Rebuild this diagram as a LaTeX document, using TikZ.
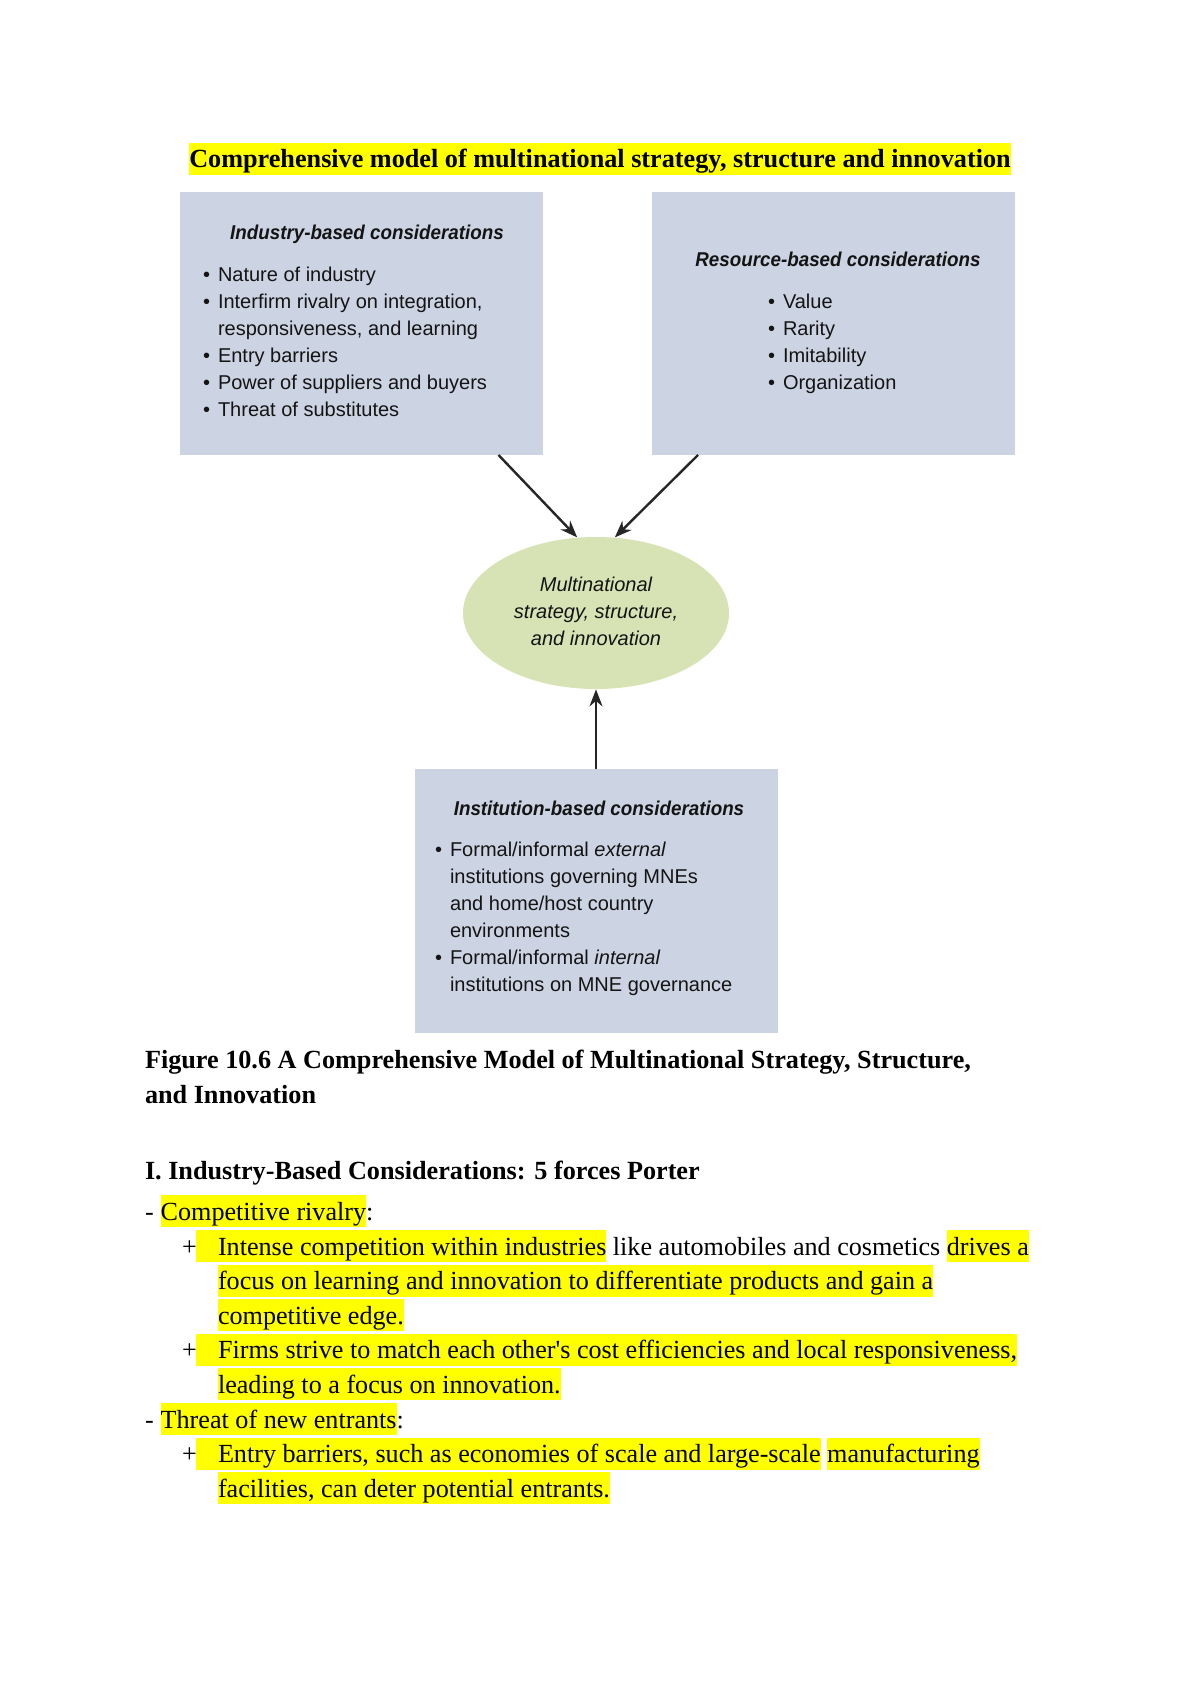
\documentclass[tikz,border=0pt]{standalone}
\usepackage{fontspec}
\setmainfont{Liberation Serif}
\newfontfamily\dg{Liberation Sans}
\newfontfamily\dgn[FakeStretch=0.94]{Liberation Sans}
\usetikzlibrary{shapes.geometric,arrows.meta}
\definecolor{boxc}{RGB}{204,211,227}
\definecolor{ellc}{RGB}{215,227,180}
\definecolor{hly}{RGB}{255,255,0}
\definecolor{dtext}{RGB}{20,20,20}
\newcommand{\hl}[1]{{\setlength{\fboxsep}{0pt}\colorbox{hly}{\rule[-3.5pt]{0pt}{16pt}#1}}}
\newcommand{\bul}{\llap{\textbullet\hspace{4pt}}}
\tikzset{
  dg/.style={font=\dg\fontsize{10}{12}\selectfont, text=dtext, inner sep=0, outer sep=0, anchor=base west},
  dgt/.style={font=\dgn\bfseries\itshape\fontsize{10}{12}\selectfont, text=dtext, inner sep=0, outer sep=0, anchor=base},
  body/.style={font=\fontsize{13.07}{15}\selectfont, inner sep=0, outer sep=0, anchor=base west},
  bodyb/.style={font=\bfseries\fontsize{13.1}{15}\selectfont, inner sep=0, outer sep=0, anchor=base west},
  box/.style={fill=boxc, draw=none, minimum width=181.5pt, minimum height=131.5pt, inner sep=0, outer sep=0},
  arr/.style={draw=black!85, line width=1.2pt, -{Stealth[length=8.5pt,width=6.5pt]}},
}
\begin{document}
\begin{tikzpicture}[x=0.5pt,y=-0.5pt]
\fill[white] (0,0) rectangle (1200,1696);
\useasboundingbox (0,0) rectangle (1200,1696);

% title
\node[font=\bfseries\fontsize{13.1}{15}\selectfont, inner sep=0, anchor=base] (title) at (600,168)
  {\hl{Comprehensive model of multinational strategy, structure and innovation}};

% boxes
\node[box] (L) at (361,323.5) {};
\node[box] (R) at (833.5,323.5) {};
\node[box, minimum height=132pt] (B) at (596,901) {};
\node[ellipse, fill=ellc, draw=none, minimum width=133pt, minimum height=76pt, inner sep=0] (E) at (596,613) {};
\node[align=center, text=dtext, inner sep=0, font=\dg\itshape\fontsize{10}{13.5}\selectfont] (Et) at (596,611.5)
  {Multinational\\strategy, structure,\\and innovation};

% left box text
\node[dgt] (Lt) at (367,240) {Industry-based considerations};
\node[dg] (L1) at (218,281) {\bul Nature of industry};
\node[dg] (L2) at (218,308) {\bul Interfirm rivalry on integration,};
\node[dg] (L3) at (218,335) {responsiveness, and learning};
\node[dg] (L4) at (218,362) {\bul Entry barriers};
\node[dg] (L5) at (218,389) {\bul Power of suppliers and buyers};
\node[dg] (L6) at (218,416) {\bul Threat of substitutes};

% right box text
\node[dgt] (Rt) at (838,266) {Resource-based considerations};
\node[dg] (R1) at (783,308) {\bul Value};
\node[dg] (R2) at (783,335) {\bul Rarity};
\node[dg] (R3) at (783,362) {\bul Imitability};
\node[dg] (R4) at (783,389) {\bul Organization};

% bottom box text
\node[dgt] (Bt) at (599,815) {Institution-based considerations};
\node[dg] (B1) at (450,856) {\bul Formal/informal \textit{external}};
\node[dg] (B2) at (450,883) {institutions governing MNEs};
\node[dg] (B3) at (450,910) {and home/host country};
\node[dg] (B4) at (450,937) {environments};
\node[dg] (B5) at (450,964) {\bul Formal/informal \textit{internal}};
\node[dg] (B6) at (450,991) {institutions on MNE governance};

% arrows
\draw[arr] ([xshift=-22pt]L.south east) -- (E.104);
\draw[arr] ([xshift=23pt]R.south west) -- (E.76);
\draw[arr] (B.north) -- (E.south);

% lower text
\node[bodyb] (f1) at (145,1068) {Figure 10.6 A Comprehensive Model of Multinational Strategy, Structure,};
\node[bodyb] (f2) at (145,1103) {and Innovation};
\node[bodyb] (h1) at (145,1179) {I. Industry-Based Considerations: 5 forces Porter};
\node[body] (d1) at (145,1220) {-\hspace{3.5pt}\hl{Competitive rivalry}:};
\node[body] (p1) at (182,1255) {+};
\node[body] (t1) at (196,1255) {\hl{\hspace{11pt}Intense competition within industries} like automobiles and cosmetics \hl{drives a}};
\node[body] (t2) at (218,1289.6) {\hl{focus on learning and innovation to differentiate products and gain a}};
\node[body] (t3) at (218,1324.2) {\hl{competitive edge.}};
\node[body] (p2) at (182,1358.8) {+};
\node[body] (t4) at (196,1358.8) {\hl{\hspace{11pt}Firms strive to match each other\textquotesingle s cost efficiencies and local responsiveness,}};
\node[body] (t5) at (218,1393.4) {\hl{leading to a focus on innovation.}};
\node[body] (d2) at (145,1428) {-\hspace{3.5pt}\hl{Threat of new entrants}:};
\node[body] (p3) at (182,1462.6) {+};
\node[body] (t6) at (196,1462.6) {\hl{\hspace{11pt}Entry barriers, such as economies of scale and large-scale} \hl{manufacturing}};
\node[body] (t7) at (218,1497.2) {\hl{facilities, can deter potential entrants.}};
\end{tikzpicture}
\end{document}
